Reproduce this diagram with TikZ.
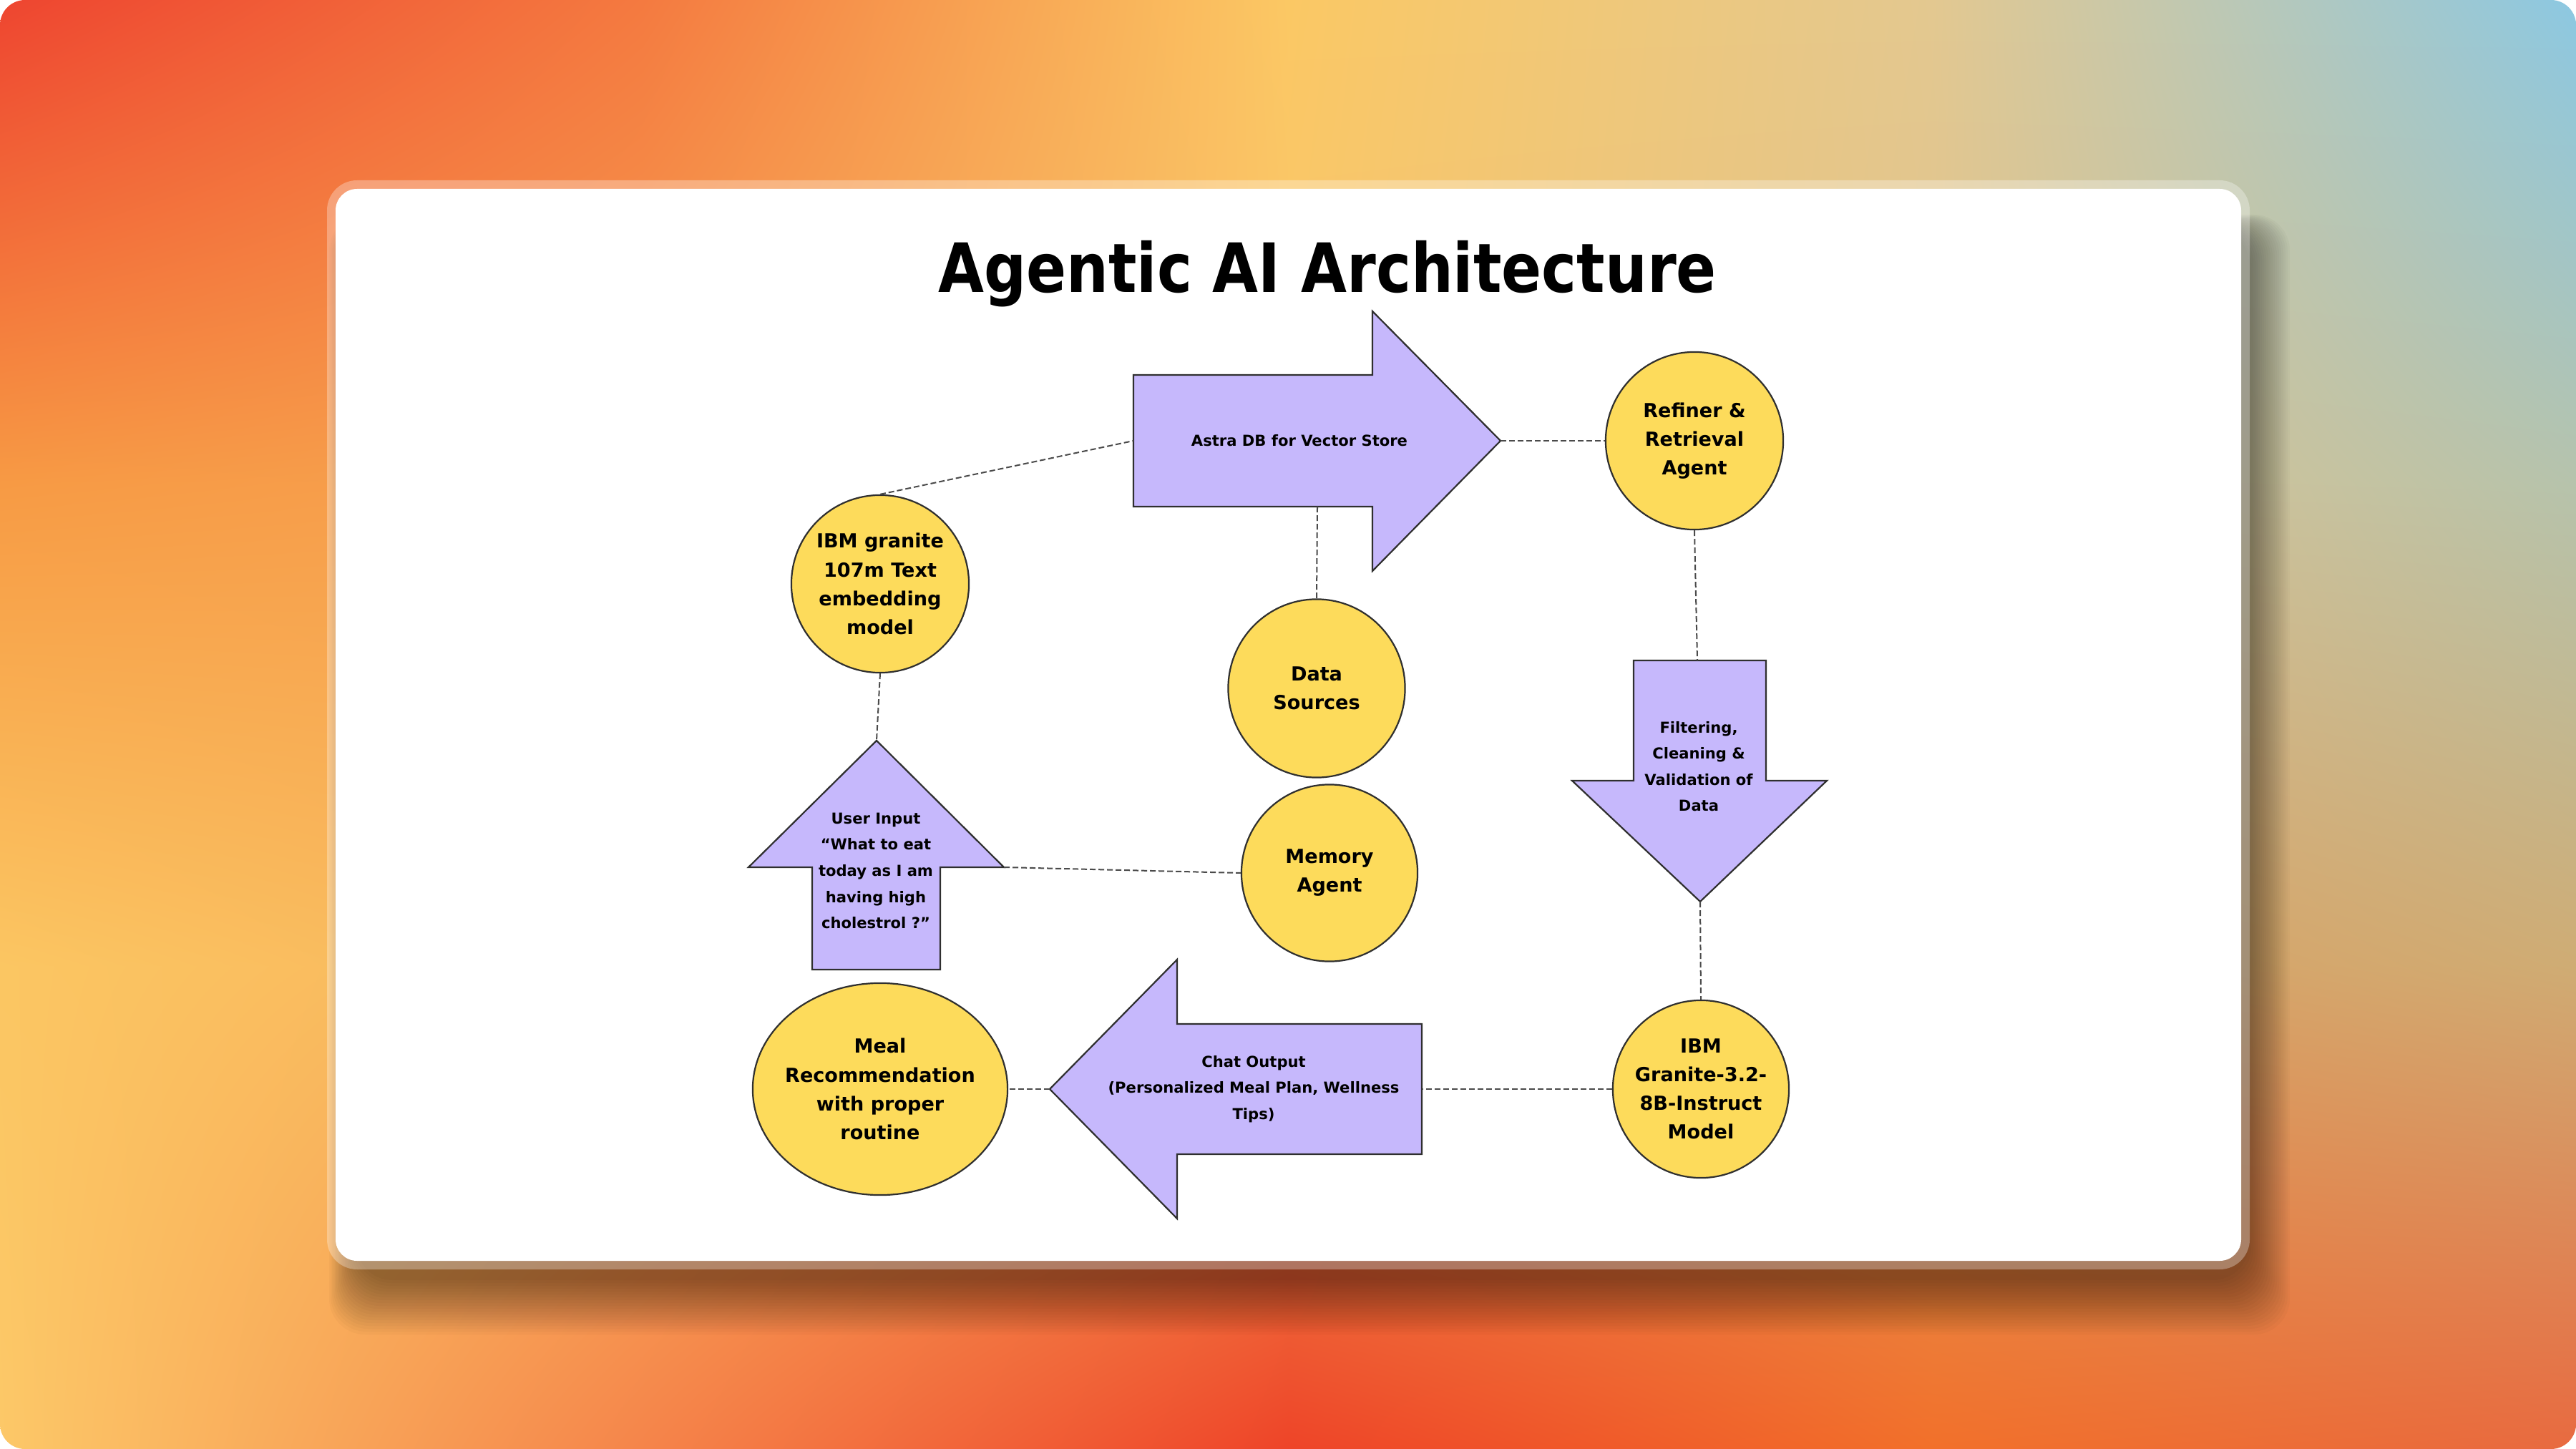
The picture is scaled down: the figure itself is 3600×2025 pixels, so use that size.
\documentclass[tikz,border=0pt]{standalone}
\usepackage{fontspec}
\setmainfont{DejaVu Sans}
\usetikzlibrary{shapes.geometric,shadings}
\definecolor{g00}{HTML}{EE4530}\definecolor{g01}{HTML}{F47A40}\definecolor{g02}{HTML}{FBC864}\definecolor{g03}{HTML}{E3C890}\definecolor{g04}{HTML}{8CC8E2}
\definecolor{g10}{HTML}{F79A44}\definecolor{g11}{HTML}{F6A050}\definecolor{g12}{HTML}{F9C46A}\definecolor{g13}{HTML}{E0C28C}\definecolor{g14}{HTML}{B6C3AC}
\definecolor{g20}{HTML}{FBC662}\definecolor{g21}{HTML}{F8B45C}\definecolor{g22}{HTML}{F0A055}\definecolor{g23}{HTML}{DCA062}\definecolor{g24}{HTML}{CFAC74}
\definecolor{g30}{HTML}{FCC868}\definecolor{g31}{HTML}{F5844A}\definecolor{g32}{HTML}{EE4428}\definecolor{g33}{HTML}{F2702A}\definecolor{g34}{HTML}{E86A40}
\definecolor{agentyellow}{HTML}{FDDB5B}
\definecolor{arrowlav}{HTML}{C6B8FC}
\definecolor{outlinec}{HTML}{2F2F2F}
\definecolor{linkc}{HTML}{4A4A4A}
\newcommand\myagentfont{\bfseries\fontsize{7.7}{11.4}\selectfont}
\newcommand\myarrowfont{\bfseries\fontsize{6}{10.4}\selectfont}
\newcommand\mytitlefont{\bfseries\fontsize{23.5}{28}\selectfont}
\tikzset{
  agentnode/.style={ellipse, draw=outlinec, line width=0.022cm, fill=agentyellow, inner sep=0pt},
  agenttext/.style={align=center, font=\myagentfont, inner sep=0pt, text=black},
  flowshape/.style={draw=outlinec, line width=0.022cm, fill=arrowlav, line join=miter},
  arrowtext/.style={align=center, font=\myarrowfont, inner sep=0pt, text=black},
  link/.style={draw=linkc, line width=0.02cm, dash pattern=on 0.08cm off 0.04cm},
}
\begin{document}
\begin{tikzpicture}[x=0.01cm,y=-0.01cm]
\useasboundingbox (0,0) rectangle (3600,2025);
\fill[white] (0,0) rectangle (3600,2025);
% gradient background
\begin{scope}
\clip[rounded corners=0.35cm] (0,0) rectangle (3600,2025);
\shade[upper left=g00,upper right=g01,lower left=g10,lower right=g11] (0,0) rectangle (901,676);
\shade[upper left=g01,upper right=g02,lower left=g11,lower right=g12] (900,0) rectangle (1801,676);
\shade[upper left=g02,upper right=g03,lower left=g12,lower right=g13] (1800,0) rectangle (2701,676);
\shade[upper left=g03,upper right=g04,lower left=g13,lower right=g14] (2700,0) rectangle (3600,676);
\shade[upper left=g10,upper right=g11,lower left=g20,lower right=g21] (0,675) rectangle (901,1351);
\shade[upper left=g11,upper right=g12,lower left=g21,lower right=g22] (900,675) rectangle (1801,1351);
\shade[upper left=g12,upper right=g13,lower left=g22,lower right=g23] (1800,675) rectangle (2701,1351);
\shade[upper left=g13,upper right=g14,lower left=g23,lower right=g24] (2700,675) rectangle (3600,1351);
\shade[upper left=g20,upper right=g21,lower left=g30,lower right=g31] (0,1350) rectangle (901,2025);
\shade[upper left=g21,upper right=g22,lower left=g31,lower right=g32] (900,1350) rectangle (1801,2025);
\shade[upper left=g22,upper right=g23,lower left=g32,lower right=g33] (1800,1350) rectangle (2701,2025);
\shade[upper left=g23,upper right=g24,lower left=g33,lower right=g34] (2700,1350) rectangle (3600,2025);
% card shadow (soft, offset right and down)
\foreach \i in {1,...,20}
  \fill[black,opacity=0.022,rounded corners=0.5cm] ({500-2*\i},{320-1*\i}) rectangle ({3140+3*\i},{1785+4*\i});
\end{scope}
% card
\fill[white,opacity=0.3,rounded corners=0.42cm] (457,252) rectangle (3144,1774);
\fill[white,rounded corners=0.3cm] (469,264) rectangle (3132,1762);
% title
\node[font=\mytitlefont, anchor=base, inner sep=0pt] (title) at (1855,409) {\scalebox{1}[1.15]{Agentic AI Architecture}};
% arrow shapes
\draw[flowshape] (1584,524) -- (1918,524) -- (1918,435) -- (2097,616) -- (1918,798) -- (1918,708) -- (1584,708) -- cycle;
\draw[flowshape] (2283,923) -- (2468,923) -- (2468,1091) -- (2553,1091) -- (2376,1260) -- (2197,1091) -- (2283,1091) -- cycle;
\draw[flowshape] (1225,1035) -- (1403,1212) -- (1314,1212) -- (1314,1355) -- (1135,1355) -- (1135,1212) -- (1046,1212) -- cycle;
\draw[flowshape] (1467,1522) -- (1645,1341) -- (1645,1431) -- (1987,1431) -- (1987,1613) -- (1645,1613) -- (1645,1703) -- cycle;
\node[arrowtext] (astra) at (1816,616) {Astra DB for Vector Store};
\node[arrowtext] (filter) at (2374,1071) {Filtering,\\Cleaning \&\\Validation of\\Data};
\node[arrowtext] (userinput) at (1224,1217) {User Input\\“What to eat\\today as I am\\having high\\cholestrol ?”};
\node[arrowtext] (chat) at (1752,1522) {Chat Output\\(Personalized Meal Plan, Wellness\\Tips)};
\coordinate (astraL) at (1584,616);
\coordinate (astraTip) at (2097,616);
\coordinate (astraB) at (1841,708);
\coordinate (filterT) at (2372,923);
\coordinate (filterTip) at (2376,1260);
\coordinate (chatR) at (1987,1522);
\coordinate (chatTip) at (1467,1522);
\coordinate (uiTip) at (1225,1035);
\coordinate (uiR) at (1403,1212);
% agents
\node[agentnode, minimum width=2.48cm, minimum height=2.48cm, label={[agenttext]center:Refiner \&\\Retrieval\\Agent}] (refiner) at (2368,616) {};
\node[agentnode, minimum width=2.48cm, minimum height=2.48cm, label={[agenttext]center:IBM granite\\107m Text\\embedding\\model}] (embed) at (1230,816) {};
\node[agentnode, minimum width=2.47cm, minimum height=2.49cm, label={[agenttext]center:Data\\Sources}] (data) at (1840,962) {};
\node[agentnode, minimum width=2.46cm, minimum height=2.47cm, label={[agenttext]center:Memory\\Agent}] (memory) at (1858,1220) {};
\node[agentnode, minimum width=3.56cm, minimum height=2.96cm, label={[agenttext]center:Meal\\Recommendation\\with proper\\routine}] (meal) at (1230,1522) {};
\node[agentnode, minimum width=2.46cm, minimum height=2.48cm, label={[agenttext]center:IBM\\Granite-3.2-\\8B-Instruct\\Model}] (granite) at (2377,1522) {};
% connectors
\draw[link] (embed.north) -- (astraL);
\draw[link] (astraTip) -- (refiner.west);
\draw[link] (astraB) -- (data.north);
\draw[link] (refiner.south) -- (filterT);
\draw[link] (filterTip) -- (granite.north);
\draw[link] (granite.west) -- (chatR);
\draw[link] (chatTip) -- (meal.east);
\draw[link] (uiR) -- (memory.west);
\draw[link] (embed.south) -- (uiTip);
\end{tikzpicture}
\end{document}
